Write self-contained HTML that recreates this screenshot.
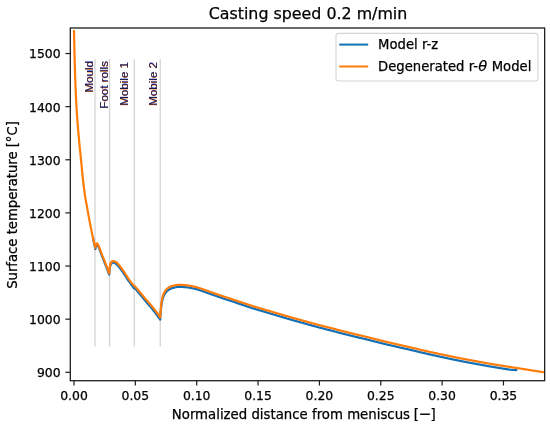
<!DOCTYPE html><html><head><meta charset="utf-8"><title>Casting speed 0.2 m/min</title>
<style>html,body{margin:0;padding:0;background:#fff}svg{display:block;position:absolute;left:0;top:0}body{position:relative;width:550px;height:428px;overflow:hidden}.vl{position:absolute;font:11.6px/1 "Liberation Sans",sans-serif;white-space:nowrap;color:#1b1b52;transform-origin:0 0;transform:rotate(-90deg) translate(-100%,-100%);text-shadow:-0.42px 0 0 rgba(255,120,0,.9),0.38px 0 0 rgba(42,80,255,.65)}text{font-family:"DejaVu Sans","Liberation Sans",sans-serif;fill:#000;stroke:#000;stroke-width:0.25px}.lab text, text.lab{font-family:"Liberation Sans",sans-serif}</style></head><body>
<svg width="550" height="428" viewBox="0 0 550 428">
<rect width="550" height="428" fill="#fff"/>
<line x1="95.0" y1="59.3" x2="95.0" y2="346.5" stroke="#d0d0d0" stroke-width="1.2"/>
<line x1="109.55" y1="59.3" x2="109.55" y2="346.5" stroke="#d0d0d0" stroke-width="1.2"/>
<line x1="134.25" y1="59.3" x2="134.25" y2="346.5" stroke="#d0d0d0" stroke-width="1.2"/>
<line x1="160.25" y1="59.3" x2="160.25" y2="346.5" stroke="#d0d0d0" stroke-width="1.2"/>
<g fill="none" stroke-width="2.2" stroke-linejoin="round" stroke-linecap="butt">
<path d="M92.85,237.33 L93.36,239.83 L93.87,242.26 L94.38,244.62 L94.89,246.90 L95.40,249.10 L95.91,246.17 L96.42,245.04 L96.93,244.61 L97.44,245.04 L97.96,245.89 L98.47,246.79 L98.98,247.87 L99.49,249.13 L100.00,250.51 L100.51,251.95 L101.02,253.41 L101.53,254.82 L102.04,256.14 L102.56,257.43 L103.07,258.71 L103.58,259.99 L104.09,261.27 L104.60,262.56 L105.11,263.86 L105.62,265.17 L106.13,266.50 L106.64,267.84 L107.16,269.19 L107.67,270.55 L108.18,271.92 L108.69,273.30 L109.20,274.69 L109.70,268.74 L110.21,266.12 L110.72,264.62 L111.22,263.73 L111.72,263.22 L112.23,262.81 L112.73,262.55 L113.24,262.53 L113.75,262.65 L114.25,262.86 L114.75,263.12 L115.26,263.42 L115.77,263.75 L116.27,264.09 L116.77,264.53 L117.28,265.05 L117.78,265.63 L118.29,266.22 L118.80,266.81 L119.30,267.40 L119.80,268.00 L120.31,268.64 L120.81,269.30 L121.32,269.99 L121.82,270.70 L122.33,271.42 L122.83,272.14 L123.34,272.88 L123.84,273.64 L124.35,274.42 L124.85,275.20 L125.36,275.98 L125.86,276.75 L126.37,277.51 L126.88,278.27 L127.38,279.03 L127.88,279.79 L128.39,280.54 L128.89,281.27 L129.40,281.98 L129.91,282.71 L130.41,283.43 L130.91,284.14 L131.42,284.82 L131.92,285.46 L132.43,286.03 L132.94,286.79 L133.44,287.65 L133.94,288.39 L134.45,288.38 L134.95,288.57 L135.46,288.96 L135.96,289.55 L136.47,290.14 L136.97,290.74 L137.48,291.33 L137.98,291.93 L138.49,292.53 L138.99,293.13 L139.50,293.73 L140.00,294.33 L140.51,294.94 L141.01,295.55 L141.52,296.15 L142.02,296.76 L142.53,297.37 L143.03,297.99 L143.54,298.61 L144.04,299.23 L144.55,299.85 L145.05,300.48 L145.56,301.10 L146.06,301.72 L146.57,302.33 L147.07,302.93 L147.58,303.53 L148.08,304.11 L148.59,304.67 L149.09,305.22 L149.60,305.77 L150.10,306.36 L150.61,306.96 L151.11,307.57 L151.62,308.18 L152.12,308.80 L152.63,309.42 L153.13,310.05 L153.64,310.69 L154.14,311.33 L154.65,311.99 L155.15,312.64 L155.66,313.31 L156.16,313.99 L156.67,314.67 L157.17,315.36 L157.68,316.06 L158.18,316.77 L158.69,317.49 L159.19,318.22 L159.70,318.95 L160.20,319.70 L160.70,312.07 L161.20,306.92 L161.70,303.33 L162.20,300.83 L162.70,298.89 L163.20,297.28 L163.70,295.96 L164.20,294.91 L164.70,294.04 L165.20,293.25 L165.70,292.56 L166.20,291.96 L166.70,291.43 L167.20,290.97 L167.70,290.57 L168.20,290.20 L168.70,289.84 L169.20,289.51 L169.70,289.21 L170.21,288.94 L170.71,288.69 L171.21,288.47 L171.71,288.28 L172.21,288.13 L172.71,287.98 L173.21,287.84 L173.71,287.71 L174.21,287.58 L174.71,287.45 L175.21,287.34 L175.71,287.24 L176.21,287.15 L176.71,287.07 L177.21,287.01 L177.71,286.96 L178.21,286.94 L178.71,286.93 L179.21,286.92 L179.71,286.92 L180.21,286.92 L180.71,286.93 L181.21,286.94 L181.71,286.96 L182.21,286.97 L182.71,286.99 L183.21,287.01 L183.71,287.04 L184.21,287.07 L184.71,287.11 L185.21,287.16 L185.71,287.21 L186.21,287.27 L186.71,287.33 L187.21,287.39 L187.71,287.45 L188.21,287.52 L188.71,287.59 L189.22,287.67 L189.72,287.75 L190.22,287.83 L190.72,287.92 L191.22,288.01 L191.72,288.11 L192.22,288.21 L192.72,288.31 L193.22,288.42 L193.72,288.53 L194.22,288.64 L194.72,288.75 L195.22,288.87 L195.72,289.00 L196.22,289.13 L196.72,289.28 L197.22,289.42 L197.72,289.57 L198.22,289.73 L198.72,289.89 L199.22,290.05 L199.72,290.21 L200.22,290.38 L200.72,290.55 L201.22,290.71 L201.72,290.88 L202.22,291.05 L202.72,291.22 L203.22,291.39 L203.72,291.57 L204.22,291.75 L204.72,291.93 L205.22,292.11 L205.72,292.30 L206.22,292.48 L206.72,292.67 L207.22,292.85 L207.72,293.04 L208.23,293.22 L208.73,293.40 L209.23,293.57 L209.73,293.75 L210.23,293.92 L210.73,294.10 L211.23,294.27 L211.73,294.44 L212.23,294.62 L212.73,294.79 L213.23,294.96 L213.73,295.13 L214.23,295.30 L214.73,295.48 L215.23,295.65 L215.73,295.82 L216.23,296.00 L216.73,296.17 L217.23,296.35 L217.73,296.52 L218.23,296.70 L218.73,296.88 L219.23,297.06 L219.73,297.23 L220.23,297.41 L220.73,297.59 L221.23,297.77 L221.73,297.94 L222.23,298.11 L222.73,298.29 L223.23,298.46 L223.73,298.62 L224.23,298.79 L224.73,298.95 L225.23,299.11 L225.73,299.27 L226.23,299.43 L226.73,299.58 L227.23,299.74 L227.74,299.89 L228.24,300.05 L228.74,300.21 L229.24,300.36 L229.74,300.52 L230.24,300.69 L230.74,300.85 L231.24,301.02 L231.74,301.18 L232.24,301.35 L232.74,301.53 L233.24,301.70 L233.74,301.87 L234.24,302.05 L234.74,302.22 L235.24,302.40 L235.74,302.58 L236.24,302.75 L236.74,302.93 L237.24,303.10 L237.74,303.27 L238.24,303.44 L238.74,303.61 L239.24,303.78 L239.74,303.95 L240.24,304.11 L240.74,304.28 L241.24,304.44 L241.74,304.61 L242.24,304.77 L242.74,304.94 L243.24,305.10 L243.74,305.27 L244.24,305.43 L244.74,305.60 L245.24,305.77 L245.74,305.93 L246.24,306.10 L246.75,306.27 L247.25,306.44 L247.75,306.62 L248.25,306.79 L248.75,306.96 L249.25,307.13 L249.75,307.30 L250.25,307.47 L250.75,307.64 L251.25,307.81 L251.75,307.97 L252.25,308.13 L252.75,308.29 L253.25,308.45 L253.75,308.60 L254.25,308.75 L254.75,308.91 L255.25,309.06 L255.75,309.20 L256.25,309.35 L256.75,309.50 L257.25,309.64 L257.75,309.79 L258.25,309.94 L258.75,310.08 L259.25,310.23 L259.75,310.38 L260.25,310.53 L260.75,310.67 L261.25,310.82 L261.75,310.97 L262.25,311.12 L262.75,311.27 L263.25,311.42 L263.75,311.57 L264.25,311.71 L264.75,311.86 L265.25,312.01 L265.76,312.16 L266.26,312.31 L266.76,312.46 L267.26,312.60 L267.76,312.75 L268.26,312.90 L268.76,313.05 L269.26,313.20 L269.76,313.35 L270.26,313.49 L270.76,313.64 L271.26,313.79 L271.76,313.94 L272.26,314.09 L272.76,314.24 L273.26,314.39 L273.76,314.53 L274.26,314.68 L274.76,314.83 L275.26,314.98 L275.76,315.13 L276.26,315.28 L276.76,315.43 L277.26,315.58 L277.76,315.73 L278.26,315.88 L278.76,316.03 L279.26,316.18 L279.76,316.33 L280.26,316.48 L280.76,316.64 L281.26,316.79 L281.76,316.94 L282.26,317.09 L282.76,317.24 L283.26,317.39 L283.76,317.54 L284.26,317.69 L284.76,317.84 L285.27,317.98 L285.77,318.13 L286.27,318.28 L286.77,318.43 L287.27,318.58 L287.77,318.72 L288.27,318.87 L288.77,319.01 L289.27,319.16 L289.77,319.30 L290.27,319.44 L290.77,319.59 L291.27,319.73 L291.77,319.87 L292.27,320.01 L292.77,320.15 L293.27,320.29 L293.77,320.44 L294.27,320.58 L294.77,320.71 L295.27,320.85 L295.77,320.99 L296.27,321.13 L296.77,321.27 L297.27,321.41 L297.77,321.55 L298.27,321.69 L298.77,321.83 L299.27,321.96 L299.77,322.10 L300.27,322.24 L300.77,322.38 L301.27,322.52 L301.77,322.66 L302.27,322.79 L302.77,322.93 L303.27,323.07 L303.77,323.21 L304.28,323.35 L304.78,323.49 L305.28,323.63 L305.78,323.77 L306.28,323.91 L306.78,324.05 L307.28,324.19 L307.78,324.33 L308.28,324.47 L308.78,324.61 L309.28,324.76 L309.78,324.90 L310.28,325.04 L310.78,325.18 L311.28,325.32 L311.78,325.46 L312.28,325.60 L312.78,325.73 L313.28,325.87 L313.78,326.01 L314.28,326.15 L314.78,326.29 L315.28,326.43 L315.78,326.56 L316.28,326.70 L316.78,326.84 L317.28,326.97 L317.78,327.11 L318.28,327.24 L318.78,327.37 L319.28,327.51 L319.78,327.64 L320.28,327.77 L320.78,327.90 L321.28,328.03 L321.78,328.16 L322.28,328.29 L322.78,328.42 L323.29,328.55 L323.79,328.68 L324.29,328.81 L324.79,328.94 L325.29,329.06 L325.79,329.19 L326.29,329.32 L326.79,329.45 L327.29,329.58 L327.79,329.70 L328.29,329.83 L328.79,329.96 L329.29,330.09 L329.79,330.22 L330.29,330.35 L330.79,330.48 L331.29,330.61 L331.79,330.74 L332.29,330.87 L332.79,331.00 L333.29,331.13 L333.79,331.26 L334.29,331.39 L334.79,331.52 L335.29,331.66 L335.79,331.79 L336.29,331.92 L336.79,332.06 L337.29,332.19 L337.79,332.32 L338.29,332.45 L338.79,332.59 L339.29,332.72 L339.79,332.85 L340.29,332.97 L340.79,333.10 L341.29,333.23 L341.79,333.35 L342.29,333.48 L342.80,333.61 L343.30,333.73 L343.80,333.86 L344.30,333.98 L344.80,334.11 L345.30,334.23 L345.80,334.35 L346.30,334.48 L346.80,334.60 L347.30,334.73 L347.80,334.85 L348.30,334.97 L348.80,335.10 L349.30,335.22 L349.80,335.34 L350.30,335.46 L350.80,335.59 L351.30,335.71 L351.80,335.83 L352.30,335.96 L352.80,336.08 L353.30,336.20 L353.80,336.33 L354.30,336.45 L354.80,336.57 L355.30,336.70 L355.80,336.82 L356.30,336.95 L356.80,337.07 L357.30,337.19 L357.80,337.32 L358.30,337.44 L358.80,337.56 L359.30,337.69 L359.80,337.81 L360.30,337.93 L360.80,338.05 L361.30,338.18 L361.81,338.30 L362.31,338.42 L362.81,338.55 L363.31,338.67 L363.81,338.79 L364.31,338.92 L364.81,339.04 L365.31,339.16 L365.81,339.29 L366.31,339.41 L366.81,339.53 L367.31,339.66 L367.81,339.78 L368.31,339.90 L368.81,340.03 L369.31,340.15 L369.81,340.28 L370.31,340.40 L370.81,340.52 L371.31,340.65 L371.81,340.77 L372.31,340.90 L372.81,341.03 L373.31,341.15 L373.81,341.28 L374.31,341.40 L374.81,341.53 L375.31,341.65 L375.81,341.78 L376.31,341.90 L376.81,342.03 L377.31,342.15 L377.81,342.28 L378.31,342.40 L378.81,342.53 L379.31,342.65 L379.81,342.78 L380.31,342.90 L380.81,343.02 L381.32,343.15 L381.82,343.27 L382.32,343.39 L382.82,343.51 L383.32,343.63 L383.82,343.75 L384.32,343.87 L384.82,343.99 L385.32,344.11 L385.82,344.23 L386.32,344.35 L386.82,344.47 L387.32,344.58 L387.82,344.70 L388.32,344.82 L388.82,344.93 L389.32,345.05 L389.82,345.17 L390.32,345.28 L390.82,345.40 L391.32,345.52 L391.82,345.63 L392.32,345.75 L392.82,345.86 L393.32,345.98 L393.82,346.09 L394.32,346.21 L394.82,346.32 L395.32,346.44 L395.82,346.55 L396.32,346.67 L396.82,346.78 L397.32,346.90 L397.82,347.01 L398.32,347.13 L398.82,347.24 L399.32,347.36 L399.82,347.47 L400.33,347.59 L400.83,347.70 L401.33,347.81 L401.83,347.93 L402.33,348.04 L402.83,348.15 L403.33,348.26 L403.83,348.38 L404.33,348.49 L404.83,348.60 L405.33,348.72 L405.83,348.83 L406.33,348.94 L406.83,349.05 L407.33,349.17 L407.83,349.28 L408.33,349.39 L408.83,349.51 L409.33,349.62 L409.83,349.74 L410.33,349.85 L410.83,349.97 L411.33,350.08 L411.83,350.20 L412.33,350.31 L412.83,350.43 L413.33,350.55 L413.83,350.67 L414.33,350.79 L414.83,350.91 L415.33,351.03 L415.83,351.15 L416.33,351.27 L416.83,351.39 L417.33,351.52 L417.83,351.64 L418.33,351.76 L418.83,351.88 L419.34,351.99 L419.84,352.11 L420.34,352.23 L420.84,352.35 L421.34,352.47 L421.84,352.58 L422.34,352.70 L422.84,352.82 L423.34,352.93 L423.84,353.05 L424.34,353.16 L424.84,353.28 L425.34,353.40 L425.84,353.51 L426.34,353.63 L426.84,353.74 L427.34,353.85 L427.84,353.97 L428.34,354.08 L428.84,354.19 L429.34,354.31 L429.84,354.42 L430.34,354.53 L430.84,354.65 L431.34,354.76 L431.84,354.87 L432.34,354.98 L432.84,355.09 L433.34,355.21 L433.84,355.32 L434.34,355.43 L434.84,355.54 L435.34,355.65 L435.84,355.76 L436.34,355.87 L436.84,355.98 L437.34,356.09 L437.84,356.20 L438.34,356.31 L438.85,356.42 L439.35,356.53 L439.85,356.64 L440.35,356.75 L440.85,356.86 L441.35,356.97 L441.85,357.08 L442.35,357.19 L442.85,357.30 L443.35,357.40 L443.85,357.51 L444.35,357.62 L444.85,357.73 L445.35,357.83 L445.85,357.94 L446.35,358.05 L446.85,358.15 L447.35,358.26 L447.85,358.37 L448.35,358.47 L448.85,358.58 L449.35,358.68 L449.85,358.79 L450.35,358.89 L450.85,359.00 L451.35,359.10 L451.85,359.21 L452.35,359.31 L452.85,359.41 L453.35,359.52 L453.85,359.62 L454.35,359.73 L454.85,359.83 L455.35,359.93 L455.85,360.03 L456.35,360.14 L456.85,360.24 L457.35,360.34 L457.86,360.44 L458.36,360.55 L458.86,360.65 L459.36,360.75 L459.86,360.85 L460.36,360.95 L460.86,361.05 L461.36,361.15 L461.86,361.25 L462.36,361.35 L462.86,361.45 L463.36,361.55 L463.86,361.64 L464.36,361.74 L464.86,361.84 L465.36,361.94 L465.86,362.03 L466.36,362.12 L466.86,362.22 L467.36,362.31 L467.86,362.41 L468.36,362.50 L468.86,362.59 L469.36,362.68 L469.86,362.78 L470.36,362.87 L470.86,362.96 L471.36,363.05 L471.86,363.15 L472.36,363.24 L472.86,363.33 L473.36,363.42 L473.86,363.51 L474.36,363.60 L474.86,363.69 L475.36,363.78 L475.86,363.88 L476.36,363.97 L476.87,364.06 L477.37,364.15 L477.87,364.24 L478.37,364.33 L478.87,364.42 L479.37,364.51 L479.87,364.60 L480.37,364.70 L480.87,364.79 L481.37,364.88 L481.87,364.97 L482.37,365.06 L482.87,365.15 L483.37,365.24 L483.87,365.33 L484.37,365.42 L484.87,365.52 L485.37,365.61 L485.87,365.70 L486.37,365.79 L486.87,365.88 L487.37,365.97 L487.87,366.06 L488.37,366.14 L488.87,366.23 L489.37,366.32 L489.87,366.41 L490.37,366.50 L490.87,366.59 L491.37,366.67 L491.87,366.76 L492.37,366.84 L492.87,366.93 L493.37,367.01 L493.87,367.10 L494.37,367.18 L494.87,367.27 L495.37,367.35 L495.87,367.43 L496.38,367.52 L496.88,367.60 L497.38,367.68 L497.88,367.76 L498.38,367.84 L498.88,367.92 L499.38,368.00 L499.88,368.08 L500.38,368.16 L500.88,368.25 L501.38,368.33 L501.88,368.41 L502.38,368.48 L502.88,368.56 L503.38,368.64 L503.88,368.72 L504.38,368.80 L504.88,368.88 L505.38,368.96 L505.88,369.04 L506.38,369.12 L506.88,369.19 L507.38,369.27 L507.88,369.35 L508.38,369.43 L508.88,369.50 L509.38,369.58 L509.88,369.66 L513.00,369.95 L517.30,370.05" stroke="#1470b6"/>
<path d="M74.00,30.00 L74.51,53.91 L75.02,73.01 L75.53,87.25 L76.04,98.54 L76.55,107.80 L77.06,115.66 L77.57,122.58 L78.08,128.86 L78.59,134.83 L79.10,140.53 L79.60,145.86 L80.11,150.94 L80.62,155.91 L81.13,160.92 L81.64,166.09 L82.15,171.30 L82.66,176.43 L83.17,181.34 L83.68,185.88 L84.19,189.93 L84.70,193.51 L85.21,196.80 L85.72,199.86 L86.23,202.76 L86.74,205.56 L87.25,208.31 L87.76,211.09 L88.27,213.94 L88.78,216.82 L89.29,219.66 L89.80,222.41 L90.30,225.02 L90.81,227.54 L91.32,230.02 L91.83,232.46 L92.34,234.84 L92.85,237.17 L93.36,239.44 L93.87,241.64 L94.38,243.78 L94.89,245.83 L95.40,247.80 L95.91,244.87 L96.42,243.73 L96.93,243.30 L97.44,243.73 L97.96,244.58 L98.47,245.47 L98.98,246.55 L99.49,247.80 L100.00,249.17 L100.51,250.62 L101.02,252.07 L101.53,253.47 L102.04,254.79 L102.56,256.08 L103.07,257.36 L103.58,258.63 L104.09,259.91 L104.60,261.19 L105.11,262.49 L105.62,263.80 L106.13,265.13 L106.64,266.46 L107.16,267.81 L107.67,269.17 L108.18,270.54 L108.69,271.91 L109.20,273.30 L109.70,267.34 L110.21,264.72 L110.72,263.20 L111.22,262.29 L111.72,261.76 L112.23,261.33 L112.73,261.06 L113.24,261.00 L113.75,261.08 L114.25,261.23 L114.75,261.44 L115.26,261.70 L115.77,261.97 L116.27,262.26 L116.77,262.65 L117.28,263.12 L117.78,263.65 L118.29,264.22 L118.80,264.81 L119.30,265.40 L119.80,266.00 L120.31,266.64 L120.81,267.30 L121.32,267.99 L121.82,268.70 L122.33,269.42 L122.83,270.14 L123.34,270.88 L123.84,271.64 L124.35,272.42 L124.85,273.20 L125.36,273.98 L125.86,274.75 L126.37,275.51 L126.88,276.27 L127.38,277.03 L127.88,277.79 L128.39,278.54 L128.89,279.27 L129.40,279.98 L129.91,280.71 L130.41,281.43 L130.91,282.14 L131.42,282.82 L131.92,283.46 L132.43,284.03 L132.94,284.54 L133.44,285.00 L133.94,285.42 L134.45,285.80 L134.95,286.38 L135.46,286.96 L135.96,287.54 L136.47,288.12 L136.97,288.71 L137.48,289.29 L137.98,289.88 L138.49,290.47 L138.99,291.06 L139.50,291.66 L140.00,292.26 L140.51,292.85 L141.01,293.45 L141.52,294.05 L142.02,294.65 L142.53,295.25 L143.03,295.86 L143.54,296.47 L144.04,297.09 L144.55,297.70 L145.05,298.32 L145.56,298.93 L146.06,299.54 L146.57,300.15 L147.07,300.74 L147.58,301.33 L148.08,301.91 L148.59,302.45 L149.09,302.99 L149.60,303.54 L150.10,304.12 L150.61,304.71 L151.11,305.31 L151.62,305.92 L152.12,306.53 L152.63,307.14 L153.13,307.76 L153.64,308.39 L154.14,309.03 L154.65,309.67 L155.15,310.32 L155.66,310.98 L156.16,311.65 L156.67,312.32 L157.17,313.00 L157.68,313.70 L158.18,314.40 L158.69,315.11 L159.19,315.83 L159.70,316.56 L160.20,317.30 L160.70,309.68 L161.20,304.55 L161.70,300.97 L162.20,298.47 L162.70,296.55 L163.20,294.95 L163.70,293.64 L164.20,292.60 L164.70,291.73 L165.20,290.96 L165.70,290.28 L166.20,289.68 L166.70,289.16 L167.20,288.72 L167.70,288.33 L168.20,287.96 L168.70,287.62 L169.20,287.30 L169.70,287.01 L170.21,286.74 L170.71,286.50 L171.21,286.29 L171.71,286.12 L172.21,285.97 L172.71,285.84 L173.21,285.71 L173.71,285.58 L174.21,285.46 L174.71,285.35 L175.21,285.24 L175.71,285.15 L176.21,285.07 L176.71,285.01 L177.21,284.95 L177.71,284.92 L178.21,284.90 L178.71,284.90 L179.21,284.90 L179.71,284.91 L180.21,284.92 L180.71,284.93 L181.21,284.94 L181.71,284.96 L182.21,284.97 L182.71,284.99 L183.21,285.01 L183.71,285.04 L184.21,285.07 L184.71,285.11 L185.21,285.16 L185.71,285.21 L186.21,285.27 L186.71,285.33 L187.21,285.39 L187.71,285.45 L188.21,285.52 L188.71,285.59 L189.22,285.67 L189.72,285.75 L190.22,285.83 L190.72,285.92 L191.22,286.01 L191.72,286.11 L192.22,286.21 L192.72,286.31 L193.22,286.42 L193.72,286.53 L194.22,286.64 L194.72,286.75 L195.22,286.87 L195.72,287.00 L196.22,287.13 L196.72,287.28 L197.22,287.42 L197.72,287.57 L198.22,287.73 L198.72,287.89 L199.22,288.05 L199.72,288.21 L200.22,288.38 L200.72,288.54 L201.22,288.71 L201.72,288.87 L202.22,289.04 L202.72,289.21 L203.22,289.38 L203.72,289.56 L204.22,289.73 L204.72,289.91 L205.22,290.10 L205.72,290.28 L206.22,290.46 L206.72,290.65 L207.22,290.83 L207.72,291.01 L208.23,291.19 L208.73,291.37 L209.23,291.54 L209.73,291.72 L210.23,291.89 L210.73,292.06 L211.23,292.23 L211.73,292.41 L212.23,292.58 L212.73,292.75 L213.23,292.92 L213.73,293.09 L214.23,293.26 L214.73,293.43 L215.23,293.60 L215.73,293.77 L216.23,293.94 L216.73,294.11 L217.23,294.29 L217.73,294.46 L218.23,294.64 L218.73,294.82 L219.23,294.99 L219.73,295.17 L220.23,295.34 L220.73,295.52 L221.23,295.69 L221.73,295.87 L222.23,296.04 L222.73,296.21 L223.23,296.38 L223.73,296.54 L224.23,296.71 L224.73,296.87 L225.23,297.03 L225.73,297.18 L226.23,297.34 L226.73,297.49 L227.23,297.65 L227.74,297.80 L228.24,297.96 L228.74,298.11 L229.24,298.27 L229.74,298.42 L230.24,298.58 L230.74,298.75 L231.24,298.91 L231.74,299.08 L232.24,299.25 L232.74,299.42 L233.24,299.59 L233.74,299.76 L234.24,299.94 L234.74,300.11 L235.24,300.28 L235.74,300.46 L236.24,300.63 L236.74,300.80 L237.24,300.97 L237.74,301.15 L238.24,301.31 L238.74,301.48 L239.24,301.65 L239.74,301.81 L240.24,301.98 L240.74,302.14 L241.24,302.31 L241.74,302.47 L242.24,302.63 L242.74,302.80 L243.24,302.96 L243.74,303.12 L244.24,303.29 L244.74,303.45 L245.24,303.62 L245.74,303.78 L246.24,303.95 L246.75,304.12 L247.25,304.29 L247.75,304.46 L248.25,304.63 L248.75,304.80 L249.25,304.97 L249.75,305.14 L250.25,305.30 L250.75,305.47 L251.25,305.63 L251.75,305.80 L252.25,305.96 L252.75,306.12 L253.25,306.27 L253.75,306.42 L254.25,306.57 L254.75,306.72 L255.25,306.87 L255.75,307.02 L256.25,307.16 L256.75,307.31 L257.25,307.45 L257.75,307.60 L258.25,307.74 L258.75,307.89 L259.25,308.03 L259.75,308.18 L260.25,308.32 L260.75,308.47 L261.25,308.62 L261.75,308.76 L262.25,308.91 L262.75,309.06 L263.25,309.20 L263.75,309.35 L264.25,309.50 L264.75,309.64 L265.25,309.79 L265.76,309.94 L266.26,310.08 L266.76,310.23 L267.26,310.38 L267.76,310.52 L268.26,310.67 L268.76,310.82 L269.26,310.96 L269.76,311.11 L270.26,311.26 L270.76,311.40 L271.26,311.55 L271.76,311.70 L272.26,311.84 L272.76,311.99 L273.26,312.14 L273.76,312.28 L274.26,312.43 L274.76,312.58 L275.26,312.72 L275.76,312.87 L276.26,313.02 L276.76,313.17 L277.26,313.32 L277.76,313.46 L278.26,313.61 L278.76,313.76 L279.26,313.91 L279.76,314.06 L280.26,314.21 L280.76,314.36 L281.26,314.51 L281.76,314.66 L282.26,314.80 L282.76,314.95 L283.26,315.10 L283.76,315.25 L284.26,315.40 L284.76,315.54 L285.27,315.69 L285.77,315.84 L286.27,315.98 L286.77,316.13 L287.27,316.27 L287.77,316.42 L288.27,316.56 L288.77,316.70 L289.27,316.85 L289.77,316.99 L290.27,317.13 L290.77,317.27 L291.27,317.41 L291.77,317.55 L292.27,317.69 L292.77,317.83 L293.27,317.97 L293.77,318.11 L294.27,318.25 L294.77,318.38 L295.27,318.52 L295.77,318.66 L296.27,318.80 L296.77,318.93 L297.27,319.07 L297.77,319.21 L298.27,319.34 L298.77,319.48 L299.27,319.62 L299.77,319.75 L300.27,319.89 L300.77,320.03 L301.27,320.16 L301.77,320.30 L302.27,320.44 L302.77,320.57 L303.27,320.71 L303.77,320.85 L304.28,320.99 L304.78,321.12 L305.28,321.26 L305.78,321.40 L306.28,321.54 L306.78,321.68 L307.28,321.82 L307.78,321.95 L308.28,322.09 L308.78,322.23 L309.28,322.37 L309.78,322.51 L310.28,322.65 L310.78,322.79 L311.28,322.92 L311.78,323.06 L312.28,323.20 L312.78,323.34 L313.28,323.47 L313.78,323.61 L314.28,323.75 L314.78,323.88 L315.28,324.02 L315.78,324.15 L316.28,324.29 L316.78,324.42 L317.28,324.56 L317.78,324.69 L318.28,324.82 L318.78,324.95 L319.28,325.08 L319.78,325.21 L320.28,325.34 L320.78,325.47 L321.28,325.60 L321.78,325.73 L322.28,325.86 L322.78,325.99 L323.29,326.11 L323.79,326.24 L324.29,326.37 L324.79,326.49 L325.29,326.62 L325.79,326.75 L326.29,326.87 L326.79,327.00 L327.29,327.12 L327.79,327.25 L328.29,327.38 L328.79,327.50 L329.29,327.63 L329.79,327.76 L330.29,327.88 L330.79,328.01 L331.29,328.14 L331.79,328.27 L332.29,328.39 L332.79,328.52 L333.29,328.65 L333.79,328.78 L334.29,328.91 L334.79,329.04 L335.29,329.18 L335.79,329.31 L336.29,329.44 L336.79,329.57 L337.29,329.70 L337.79,329.83 L338.29,329.96 L338.79,330.09 L339.29,330.22 L339.79,330.35 L340.29,330.47 L340.79,330.60 L341.29,330.73 L341.79,330.85 L342.29,330.98 L342.80,331.11 L343.30,331.23 L343.80,331.36 L344.30,331.48 L344.80,331.61 L345.30,331.73 L345.80,331.85 L346.30,331.98 L346.80,332.10 L347.30,332.23 L347.80,332.35 L348.30,332.47 L348.80,332.60 L349.30,332.72 L349.80,332.84 L350.30,332.96 L350.80,333.09 L351.30,333.21 L351.80,333.33 L352.30,333.46 L352.80,333.58 L353.30,333.70 L353.80,333.83 L354.30,333.95 L354.80,334.07 L355.30,334.20 L355.80,334.32 L356.30,334.45 L356.80,334.57 L357.30,334.69 L357.80,334.82 L358.30,334.94 L358.80,335.06 L359.30,335.19 L359.80,335.31 L360.30,335.43 L360.80,335.55 L361.30,335.68 L361.81,335.80 L362.31,335.92 L362.81,336.05 L363.31,336.17 L363.81,336.29 L364.31,336.42 L364.81,336.54 L365.31,336.66 L365.81,336.79 L366.31,336.91 L366.81,337.03 L367.31,337.16 L367.81,337.28 L368.31,337.40 L368.81,337.53 L369.31,337.65 L369.81,337.78 L370.31,337.90 L370.81,338.02 L371.31,338.15 L371.81,338.27 L372.31,338.40 L372.81,338.53 L373.31,338.65 L373.81,338.78 L374.31,338.90 L374.81,339.03 L375.31,339.15 L375.81,339.28 L376.31,339.40 L376.81,339.53 L377.31,339.65 L377.81,339.78 L378.31,339.90 L378.81,340.03 L379.31,340.15 L379.81,340.28 L380.31,340.40 L380.81,340.52 L381.32,340.65 L381.82,340.77 L382.32,340.89 L382.82,341.01 L383.32,341.13 L383.82,341.25 L384.32,341.37 L384.82,341.49 L385.32,341.61 L385.82,341.73 L386.32,341.85 L386.82,341.97 L387.32,342.08 L387.82,342.20 L388.32,342.32 L388.82,342.43 L389.32,342.55 L389.82,342.67 L390.32,342.78 L390.82,342.90 L391.32,343.02 L391.82,343.13 L392.32,343.25 L392.82,343.36 L393.32,343.48 L393.82,343.59 L394.32,343.71 L394.82,343.82 L395.32,343.94 L395.82,344.05 L396.32,344.17 L396.82,344.28 L397.32,344.40 L397.82,344.51 L398.32,344.63 L398.82,344.74 L399.32,344.86 L399.82,344.97 L400.33,345.09 L400.83,345.20 L401.33,345.31 L401.83,345.43 L402.33,345.54 L402.83,345.65 L403.33,345.76 L403.83,345.88 L404.33,345.99 L404.83,346.10 L405.33,346.22 L405.83,346.33 L406.33,346.44 L406.83,346.55 L407.33,346.67 L407.83,346.78 L408.33,346.89 L408.83,347.01 L409.33,347.12 L409.83,347.24 L410.33,347.35 L410.83,347.47 L411.33,347.58 L411.83,347.70 L412.33,347.81 L412.83,347.93 L413.33,348.05 L413.83,348.17 L414.33,348.29 L414.83,348.41 L415.33,348.53 L415.83,348.65 L416.33,348.77 L416.83,348.89 L417.33,349.02 L417.83,349.14 L418.33,349.26 L418.83,349.38 L419.34,349.49 L419.84,349.61 L420.34,349.73 L420.84,349.84 L421.34,349.96 L421.84,350.07 L422.34,350.19 L422.84,350.30 L423.34,350.42 L423.84,350.53 L424.34,350.65 L424.84,350.76 L425.34,350.87 L425.84,350.98 L426.34,351.10 L426.84,351.21 L427.34,351.32 L427.84,351.43 L428.34,351.54 L428.84,351.66 L429.34,351.77 L429.84,351.88 L430.34,351.99 L430.84,352.10 L431.34,352.21 L431.84,352.32 L432.34,352.43 L432.84,352.54 L433.34,352.65 L433.84,352.76 L434.34,352.87 L434.84,352.97 L435.34,353.08 L435.84,353.19 L436.34,353.30 L436.84,353.41 L437.34,353.52 L437.84,353.63 L438.34,353.73 L438.85,353.84 L439.35,353.95 L439.85,354.06 L440.35,354.16 L440.85,354.27 L441.35,354.38 L441.85,354.48 L442.35,354.59 L442.85,354.69 L443.35,354.80 L443.85,354.91 L444.35,355.01 L444.85,355.12 L445.35,355.22 L445.85,355.33 L446.35,355.43 L446.85,355.53 L447.35,355.64 L447.85,355.74 L448.35,355.85 L448.85,355.95 L449.35,356.05 L449.85,356.15 L450.35,356.26 L450.85,356.36 L451.35,356.46 L451.85,356.56 L452.35,356.67 L452.85,356.77 L453.35,356.87 L453.85,356.97 L454.35,357.07 L454.85,357.17 L455.35,357.27 L455.85,357.38 L456.35,357.48 L456.85,357.58 L457.35,357.68 L457.86,357.78 L458.36,357.88 L458.86,357.97 L459.36,358.07 L459.86,358.17 L460.36,358.27 L460.86,358.37 L461.36,358.47 L461.86,358.56 L462.36,358.66 L462.86,358.76 L463.36,358.85 L463.86,358.95 L464.36,359.05 L464.86,359.14 L465.36,359.24 L465.86,359.33 L466.36,359.42 L466.86,359.52 L467.36,359.61 L467.86,359.71 L468.36,359.80 L468.86,359.89 L469.36,359.98 L469.86,360.08 L470.36,360.17 L470.86,360.26 L471.36,360.35 L471.86,360.45 L472.36,360.54 L472.86,360.63 L473.36,360.72 L473.86,360.81 L474.36,360.90 L474.86,360.99 L475.36,361.08 L475.86,361.18 L476.36,361.27 L476.87,361.36 L477.37,361.45 L477.87,361.54 L478.37,361.63 L478.87,361.72 L479.37,361.81 L479.87,361.90 L480.37,362.00 L480.87,362.09 L481.37,362.18 L481.87,362.27 L482.37,362.36 L482.87,362.45 L483.37,362.54 L483.87,362.63 L484.37,362.72 L484.87,362.82 L485.37,362.91 L485.87,363.00 L486.37,363.09 L486.87,363.18 L487.37,363.27 L487.87,363.36 L488.37,363.44 L488.87,363.53 L489.37,363.62 L489.87,363.71 L490.37,363.80 L490.87,363.89 L491.37,363.97 L491.87,364.06 L492.37,364.14 L492.87,364.23 L493.37,364.31 L493.87,364.40 L494.37,364.48 L494.87,364.57 L495.37,364.65 L495.87,364.73 L496.38,364.82 L496.88,364.90 L497.38,364.98 L497.88,365.06 L498.38,365.14 L498.88,365.22 L499.38,365.30 L499.88,365.38 L500.38,365.46 L500.88,365.55 L501.38,365.63 L501.88,365.71 L502.38,365.78 L502.88,365.86 L503.38,365.94 L503.88,366.02 L504.38,366.10 L504.88,366.18 L505.38,366.26 L505.88,366.34 L506.38,366.42 L506.88,366.49 L507.38,366.57 L507.88,366.65 L508.38,366.73 L508.88,366.80 L509.38,366.88 L509.88,366.96 L510.38,367.03 L510.88,367.11 L511.38,367.19 L511.88,367.26 L512.38,367.34 L512.88,367.42 L513.38,367.49 L513.88,367.57 L514.38,367.65 L514.88,367.73 L515.39,367.80 L515.89,367.88 L516.39,367.96 L516.89,368.04 L517.39,368.11 L517.89,368.19 L518.39,368.27 L518.89,368.35 L519.39,368.43 L519.89,368.50 L520.39,368.58 L520.89,368.66 L521.39,368.74 L521.89,368.82 L522.39,368.90 L522.89,368.97 L523.39,369.05 L523.89,369.13 L524.39,369.21 L524.89,369.29 L525.39,369.37 L525.89,369.45 L526.39,369.52 L526.89,369.60 L527.39,369.68 L527.89,369.76 L528.39,369.84 L528.89,369.92 L529.39,370.00 L529.89,370.08 L530.39,370.16 L530.89,370.23 L531.39,370.31 L531.89,370.39 L532.39,370.47 L532.89,370.55 L533.39,370.63 L533.89,370.71 L534.40,370.79 L534.90,370.87 L535.40,370.95 L535.90,371.03 L536.40,371.11 L536.90,371.18 L537.40,371.26 L537.90,371.34 L538.40,371.42 L538.90,371.50 L539.40,371.58 L539.90,371.66 L540.40,371.74 L540.90,371.82 L541.40,371.90 L541.90,371.98 L542.40,372.06 L542.90,372.14 L543.40,372.22 L543.90,372.30" stroke="#ff7c08"/>
</g>
<rect x="70.3" y="28.0" width="474.34999999999997" height="352.7" fill="none" stroke="#1e1e1e" stroke-width="1.3"/>
<line x1="74.00" y1="380.7" x2="74.00" y2="385.5" stroke="#1c1c1c" stroke-width="1.2"/>
<text x="74.00" y="400.3" font-size="12.4" text-anchor="middle">0.00</text>
<line x1="135.35" y1="380.7" x2="135.35" y2="385.5" stroke="#1c1c1c" stroke-width="1.2"/>
<text x="135.35" y="400.3" font-size="12.4" text-anchor="middle">0.05</text>
<line x1="196.70" y1="380.7" x2="196.70" y2="385.5" stroke="#1c1c1c" stroke-width="1.2"/>
<text x="196.70" y="400.3" font-size="12.4" text-anchor="middle">0.10</text>
<line x1="258.05" y1="380.7" x2="258.05" y2="385.5" stroke="#1c1c1c" stroke-width="1.2"/>
<text x="258.05" y="400.3" font-size="12.4" text-anchor="middle">0.15</text>
<line x1="319.40" y1="380.7" x2="319.40" y2="385.5" stroke="#1c1c1c" stroke-width="1.2"/>
<text x="319.40" y="400.3" font-size="12.4" text-anchor="middle">0.20</text>
<line x1="380.75" y1="380.7" x2="380.75" y2="385.5" stroke="#1c1c1c" stroke-width="1.2"/>
<text x="380.75" y="400.3" font-size="12.4" text-anchor="middle">0.25</text>
<line x1="442.10" y1="380.7" x2="442.10" y2="385.5" stroke="#1c1c1c" stroke-width="1.2"/>
<text x="442.10" y="400.3" font-size="12.4" text-anchor="middle">0.30</text>
<line x1="503.45" y1="380.7" x2="503.45" y2="385.5" stroke="#1c1c1c" stroke-width="1.2"/>
<text x="503.45" y="400.3" font-size="12.4" text-anchor="middle">0.35</text>
<line x1="65.39999999999999" y1="372.30" x2="70.3" y2="372.30" stroke="#1c1c1c" stroke-width="1.2"/>
<text x="60.6" y="377.20" font-size="12.4" text-anchor="end">900</text>
<line x1="65.39999999999999" y1="319.17" x2="70.3" y2="319.17" stroke="#1c1c1c" stroke-width="1.2"/>
<text x="60.6" y="324.07" font-size="12.4" text-anchor="end">1000</text>
<line x1="65.39999999999999" y1="266.04" x2="70.3" y2="266.04" stroke="#1c1c1c" stroke-width="1.2"/>
<text x="60.6" y="270.94" font-size="12.4" text-anchor="end">1100</text>
<line x1="65.39999999999999" y1="212.91" x2="70.3" y2="212.91" stroke="#1c1c1c" stroke-width="1.2"/>
<text x="60.6" y="217.81" font-size="12.4" text-anchor="end">1200</text>
<line x1="65.39999999999999" y1="159.78" x2="70.3" y2="159.78" stroke="#1c1c1c" stroke-width="1.2"/>
<text x="60.6" y="164.68" font-size="12.4" text-anchor="end">1300</text>
<line x1="65.39999999999999" y1="106.65" x2="70.3" y2="106.65" stroke="#1c1c1c" stroke-width="1.2"/>
<text x="60.6" y="111.55" font-size="12.4" text-anchor="end">1400</text>
<line x1="65.39999999999999" y1="53.52" x2="70.3" y2="53.52" stroke="#1c1c1c" stroke-width="1.2"/>
<text x="60.6" y="58.42" font-size="12.4" text-anchor="end">1500</text>
<text x="308" y="18.7" font-size="15.85" text-anchor="middle">Casting speed 0.2 m/min</text>
<text x="171.8" y="419.2" font-size="13.3">Normalized distance from meniscus <tspan x="413.7">[</tspan><tspan x="418.7" font-size="15">−</tspan><tspan x="430.6" font-size="13.3">]</tspan></text>
<text transform="translate(17.2,205.0) rotate(-90)" font-size="13.2" text-anchor="middle">Surface temperature [°C]</text>
<rect x="336" y="33.4" width="201.9" height="47.6" rx="2.5" ry="2.5" fill="#fff" fill-opacity="0.8" stroke="#d4d4d4" stroke-width="1.1"/>
<line x1="339.3" y1="44.6" x2="368.2" y2="44.6" stroke="#1470b6" stroke-width="2"/>
<line x1="339.3" y1="66.5" x2="368.2" y2="66.5" stroke="#ff7c08" stroke-width="2"/>
<text x="378.1" y="49.4" font-size="13.2">Model r-z</text>
<text x="378.1" y="71.2" font-size="13.2">Degenerated r-<tspan font-style="italic" font-size="14.6" dx="0.3">θ</tspan><tspan dx="0.3"> Model</tspan></text>
</svg>
<div class="vl" style="left:95.0px;top:60.8px">Mould</div>
<div class="vl" style="left:109.6px;top:61.1px">Foot rolls</div>
<div class="vl" style="left:130.4px;top:61.9px">Mobile 1</div>
<div class="vl" style="left:158.6px;top:61.7px">Mobile 2</div>
</body></html>
